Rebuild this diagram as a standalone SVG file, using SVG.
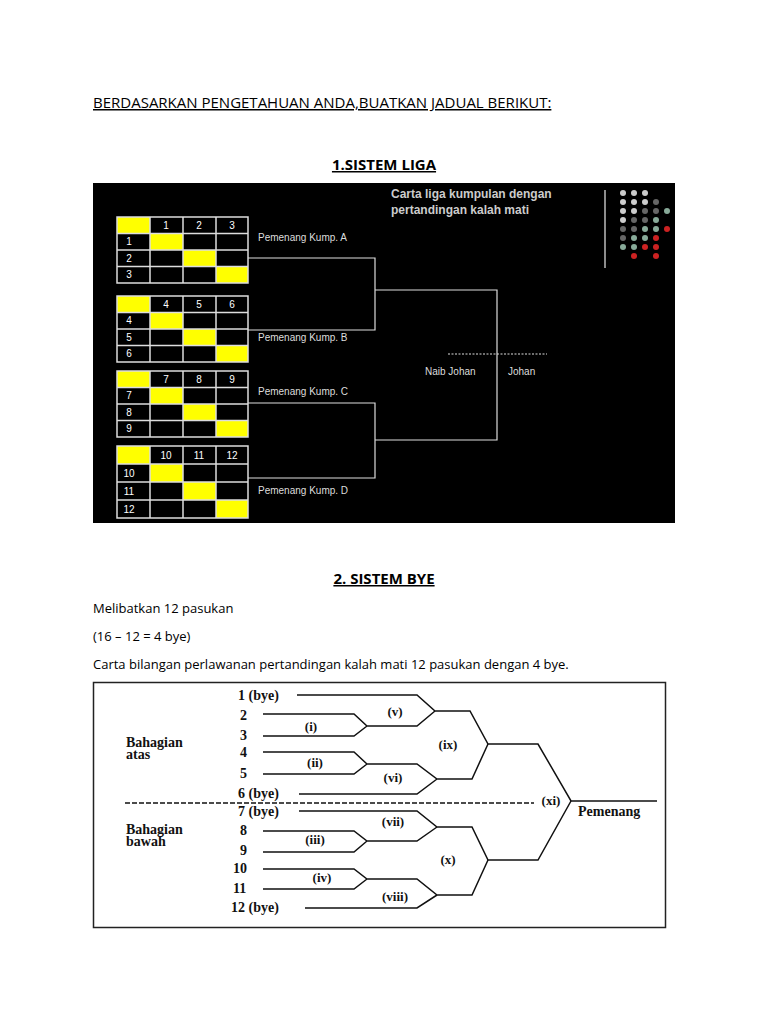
<svg xmlns="http://www.w3.org/2000/svg" width="768" height="1024" viewBox="0 0 768 1024">
<style>
.doc{font-family:"Open Sans","Liberation Sans",sans-serif;font-size:13px;fill:#000}
.h{font-size:15px}
.tw{font-family:"Liberation Sans",Arial,sans-serif;font-size:10px;fill:#ddd}
.tb{font-family:"Liberation Sans",Arial,sans-serif;font-size:10px;fill:#fff;text-anchor:middle}
.wl{stroke:#ddd;stroke-width:1.2;fill:none}
.grid{stroke:#ddd;stroke-width:1.5;fill:none}
.bl{stroke:#111;stroke-width:1.5;fill:none}
.sf{font-family:"Liberation Serif","Times New Roman",serif;font-weight:bold;font-size:14px;fill:#111}
.sl{font-family:"Liberation Serif","Times New Roman",serif;font-weight:bold;font-size:13px;fill:#111;text-anchor:middle}
</style>
<rect width="768" height="1024" fill="#fff"/>
<text class="doc h" x="93" y="108" text-decoration="underline">BERDASARKAN PENGETAHUAN ANDA,BUATKAN JADUAL BERIKUT:</text>
<text class="doc h" x="384" y="170" text-anchor="middle" font-weight="bold" text-decoration="underline">1.SISTEM LIGA</text>
<g id="liga">
<rect x="93" y="183" width="582" height="340" fill="#000"/>
<text x="391" y="198" font-family="Liberation Sans,Arial,sans-serif" font-weight="bold" font-size="12" fill="#ccc">Carta liga kumpulan dengan</text>
<text x="391" y="214" font-family="Liberation Sans,Arial,sans-serif" font-weight="bold" font-size="12" fill="#ccc">pertandingan kalah mati</text>
<line x1="605" y1="190" x2="605" y2="268" stroke="#bbb" stroke-width="1.5"/>
<g id="dots">
<circle cx="623" cy="193" r="3" fill="#ccc"/><circle cx="634" cy="193" r="3" fill="#ccc"/><circle cx="645" cy="193" r="3" fill="#ccc"/>
<circle cx="623" cy="202" r="3" fill="#ccc"/><circle cx="634" cy="202" r="3" fill="#ccc"/><circle cx="645" cy="202" r="3" fill="#ccc"/><circle cx="656" cy="202" r="3" fill="#666"/>
<circle cx="623" cy="211" r="3" fill="#ccc"/><circle cx="634" cy="211" r="3" fill="#ccc"/><circle cx="645" cy="211" r="3" fill="#666"/><circle cx="656" cy="211" r="3" fill="#666"/><circle cx="667" cy="211" r="3" fill="#8a9"/>
<circle cx="623" cy="220" r="3" fill="#ccc"/><circle cx="634" cy="220" r="3" fill="#666"/><circle cx="645" cy="220" r="3" fill="#666"/><circle cx="656" cy="220" r="3" fill="#8a9"/>
<circle cx="623" cy="229" r="3" fill="#666"/><circle cx="634" cy="229" r="3" fill="#666"/><circle cx="645" cy="229" r="3" fill="#8a9"/><circle cx="656" cy="229" r="3" fill="#8a9"/><circle cx="667" cy="229" r="3" fill="#c22"/>
<circle cx="623" cy="238" r="3" fill="#666"/><circle cx="634" cy="238" r="3" fill="#8a9"/><circle cx="645" cy="238" r="3" fill="#8a9"/><circle cx="656" cy="238" r="3" fill="#c22"/>
<circle cx="623" cy="247" r="3" fill="#8a9"/><circle cx="634" cy="247" r="3" fill="#8a9"/><circle cx="645" cy="247" r="3" fill="#c22"/><circle cx="656" cy="247" r="3" fill="#c22"/>
<circle cx="634" cy="256" r="3" fill="#c22"/><circle cx="656" cy="256" r="3" fill="#c22"/>
</g>
<g id="tableA" transform="translate(117,217)">
<rect x="0" y="0" width="33" height="16.5" fill="#ff0"/><rect x="33" y="16.5" width="33" height="16.5" fill="#ff0"/><rect x="66" y="33" width="33" height="16.5" fill="#ff0"/><rect x="99" y="49.5" width="32" height="16.5" fill="#ff0"/>
<path class="grid" d="M0 0H131V66H0Z M33 0V66 M66 0V66 M99 0V66 M0 16.5H131 M0 33H131 M0 49.5H131"/>
<text class="tb" x="49" y="12">1</text><text class="tb" x="82" y="12">2</text><text class="tb" x="115" y="12">3</text>
<text class="tb" x="12" y="28">1</text><text class="tb" x="12" y="45">2</text><text class="tb" x="12" y="61">3</text>
</g>
<g id="tableB" transform="translate(117,296)">
<rect x="0" y="0" width="33" height="16.5" fill="#ff0"/><rect x="33" y="16.5" width="33" height="16.5" fill="#ff0"/><rect x="66" y="33" width="33" height="16.5" fill="#ff0"/><rect x="99" y="49.5" width="32" height="16.5" fill="#ff0"/>
<path class="grid" d="M0 0H131V66H0Z M33 0V66 M66 0V66 M99 0V66 M0 16.5H131 M0 33H131 M0 49.5H131"/>
<text class="tb" x="49" y="12">4</text><text class="tb" x="82" y="12">5</text><text class="tb" x="115" y="12">6</text>
<text class="tb" x="12" y="28">4</text><text class="tb" x="12" y="45">5</text><text class="tb" x="12" y="61">6</text>
</g>
<g id="tableC" transform="translate(117,371)">
<rect x="0" y="0" width="33" height="16.5" fill="#ff0"/><rect x="33" y="16.5" width="33" height="16.5" fill="#ff0"/><rect x="66" y="33" width="33" height="16.5" fill="#ff0"/><rect x="99" y="49.5" width="32" height="16.5" fill="#ff0"/>
<path class="grid" d="M0 0H131V66H0Z M33 0V66 M66 0V66 M99 0V66 M0 16.5H131 M0 33H131 M0 49.5H131"/>
<text class="tb" x="49" y="12">7</text><text class="tb" x="82" y="12">8</text><text class="tb" x="115" y="12">9</text>
<text class="tb" x="12" y="28">7</text><text class="tb" x="12" y="45">8</text><text class="tb" x="12" y="61">9</text>
</g>
<g id="tableD" transform="translate(117,446)">
<rect x="0" y="0" width="33" height="18" fill="#ff0"/><rect x="33" y="18" width="33" height="18" fill="#ff0"/><rect x="66" y="36" width="33" height="18" fill="#ff0"/><rect x="99" y="54" width="32" height="18" fill="#ff0"/>
<path class="grid" d="M0 0H131V72H0Z M33 0V72 M66 0V72 M99 0V72 M0 18H131 M0 36H131 M0 54H131"/>
<text class="tb" x="49" y="13">10</text><text class="tb" x="82" y="13">11</text><text class="tb" x="115" y="13">12</text>
<text class="tb" x="12" y="31">10</text><text class="tb" x="12" y="49">11</text><text class="tb" x="12" y="67">12</text>
</g>
<text class="tw" x="258" y="241">Pemenang Kump. A</text>
<text class="tw" x="258" y="341">Pemenang Kump. B</text>
<text class="tw" x="258" y="395">Pemenang Kump. C</text>
<text class="tw" x="258" y="494">Pemenang Kump. D</text>
<text class="tw" x="425" y="375">Naib Johan</text>
<text class="tw" x="508" y="375">Johan</text>
</g>
<g id="liga-connectors">
<path class="wl" d="M248 258H375V330H248 M375 290H497V440H375 M248 403H375V478H248"/>
<line x1="448" y1="354" x2="547" y2="354" stroke="#ddd" stroke-dasharray="2,1.5"/>
</g>
<text class="doc h" x="384" y="584" text-anchor="middle" font-weight="bold" text-decoration="underline">2. SISTEM BYE</text>
<text class="doc" x="93" y="613">Melibatkan 12 pasukan</text>
<text class="doc" x="93" y="641">(16 – 12 = 4 bye)</text>
<text class="doc" x="93" y="669">Carta bilangan perlawanan pertandingan kalah mati 12 pasukan dengan 4 bye.</text>
<g id="bye">
<rect x="93.5" y="682.5" width="572" height="245" fill="#fff" stroke="#222" stroke-width="1.5"/>
<text class="sf" x="126" y="747" font-size="13">Bahagian</text><text class="sf" x="126" y="759" font-size="12">atas</text>
<text class="sf" x="126" y="834" font-size="13">Bahagian</text><text class="sf" x="126" y="846" font-size="12">bawah</text>
<text class="sf" x="238" y="700">1 (bye)</text>
<text class="sf" x="240" y="720">2</text>
<text class="sf" x="240" y="740">3</text>
<text class="sf" x="240" y="757">4</text>
<text class="sf" x="240" y="778">5</text>
<text class="sf" x="238" y="798">6 (bye)</text>
<text class="sf" x="238" y="816">7 (bye)</text>
<text class="sf" x="240" y="835">8</text>
<text class="sf" x="240" y="855">9</text>
<text class="sf" x="233" y="873">10</text>
<text class="sf" x="233" y="893">11</text>
<text class="sf" x="231" y="912">12 (bye)</text>
<text class="sl" x="395" y="716">(v)</text>
<text class="sl" x="311" y="731">(i)</text>
<text class="sl" x="448" y="749">(ix)</text>
<text class="sl" x="315" y="767">(ii)</text>
<text class="sl" x="393" y="782">(vi)</text>
<text class="sl" x="393" y="826">(vii)</text>
<text class="sl" x="315" y="844">(iii)</text>
<text class="sl" x="448" y="864">(x)</text>
<text class="sl" x="322" y="882">(iv)</text>
<text class="sl" x="395" y="901">(viii)</text>
<text class="sl" x="551" y="805">(xi)</text>
<text class="sf" x="578" y="816" font-size="13">Pemenang</text>
</g>
<g id="bye-connectors" class="bl">
<line x1="125" y1="803" x2="534" y2="803" stroke-dasharray="5,2"/>
<path d="M297 695H417L435 711H470L488 744H538L571 801H657"/>
<path d="M263 714H354L367 726H417L435 711 M263 736H354L367 726"/>
<path d="M263 752H354L367 764H417L437 779H472L488 744 M263 774H354L367 764 M299 794H417L437 779"/>
<path d="M299 811H417L437 827H472L488 860H538L571 801"/>
<path d="M263 831H354L367 841H417L437 827 M263 852H354L367 841"/>
<path d="M263 869H354L367 879H417L437 895H472L488 860 M263 889H354L367 879 M305 908H417L437 895"/>
</g>
</svg>
